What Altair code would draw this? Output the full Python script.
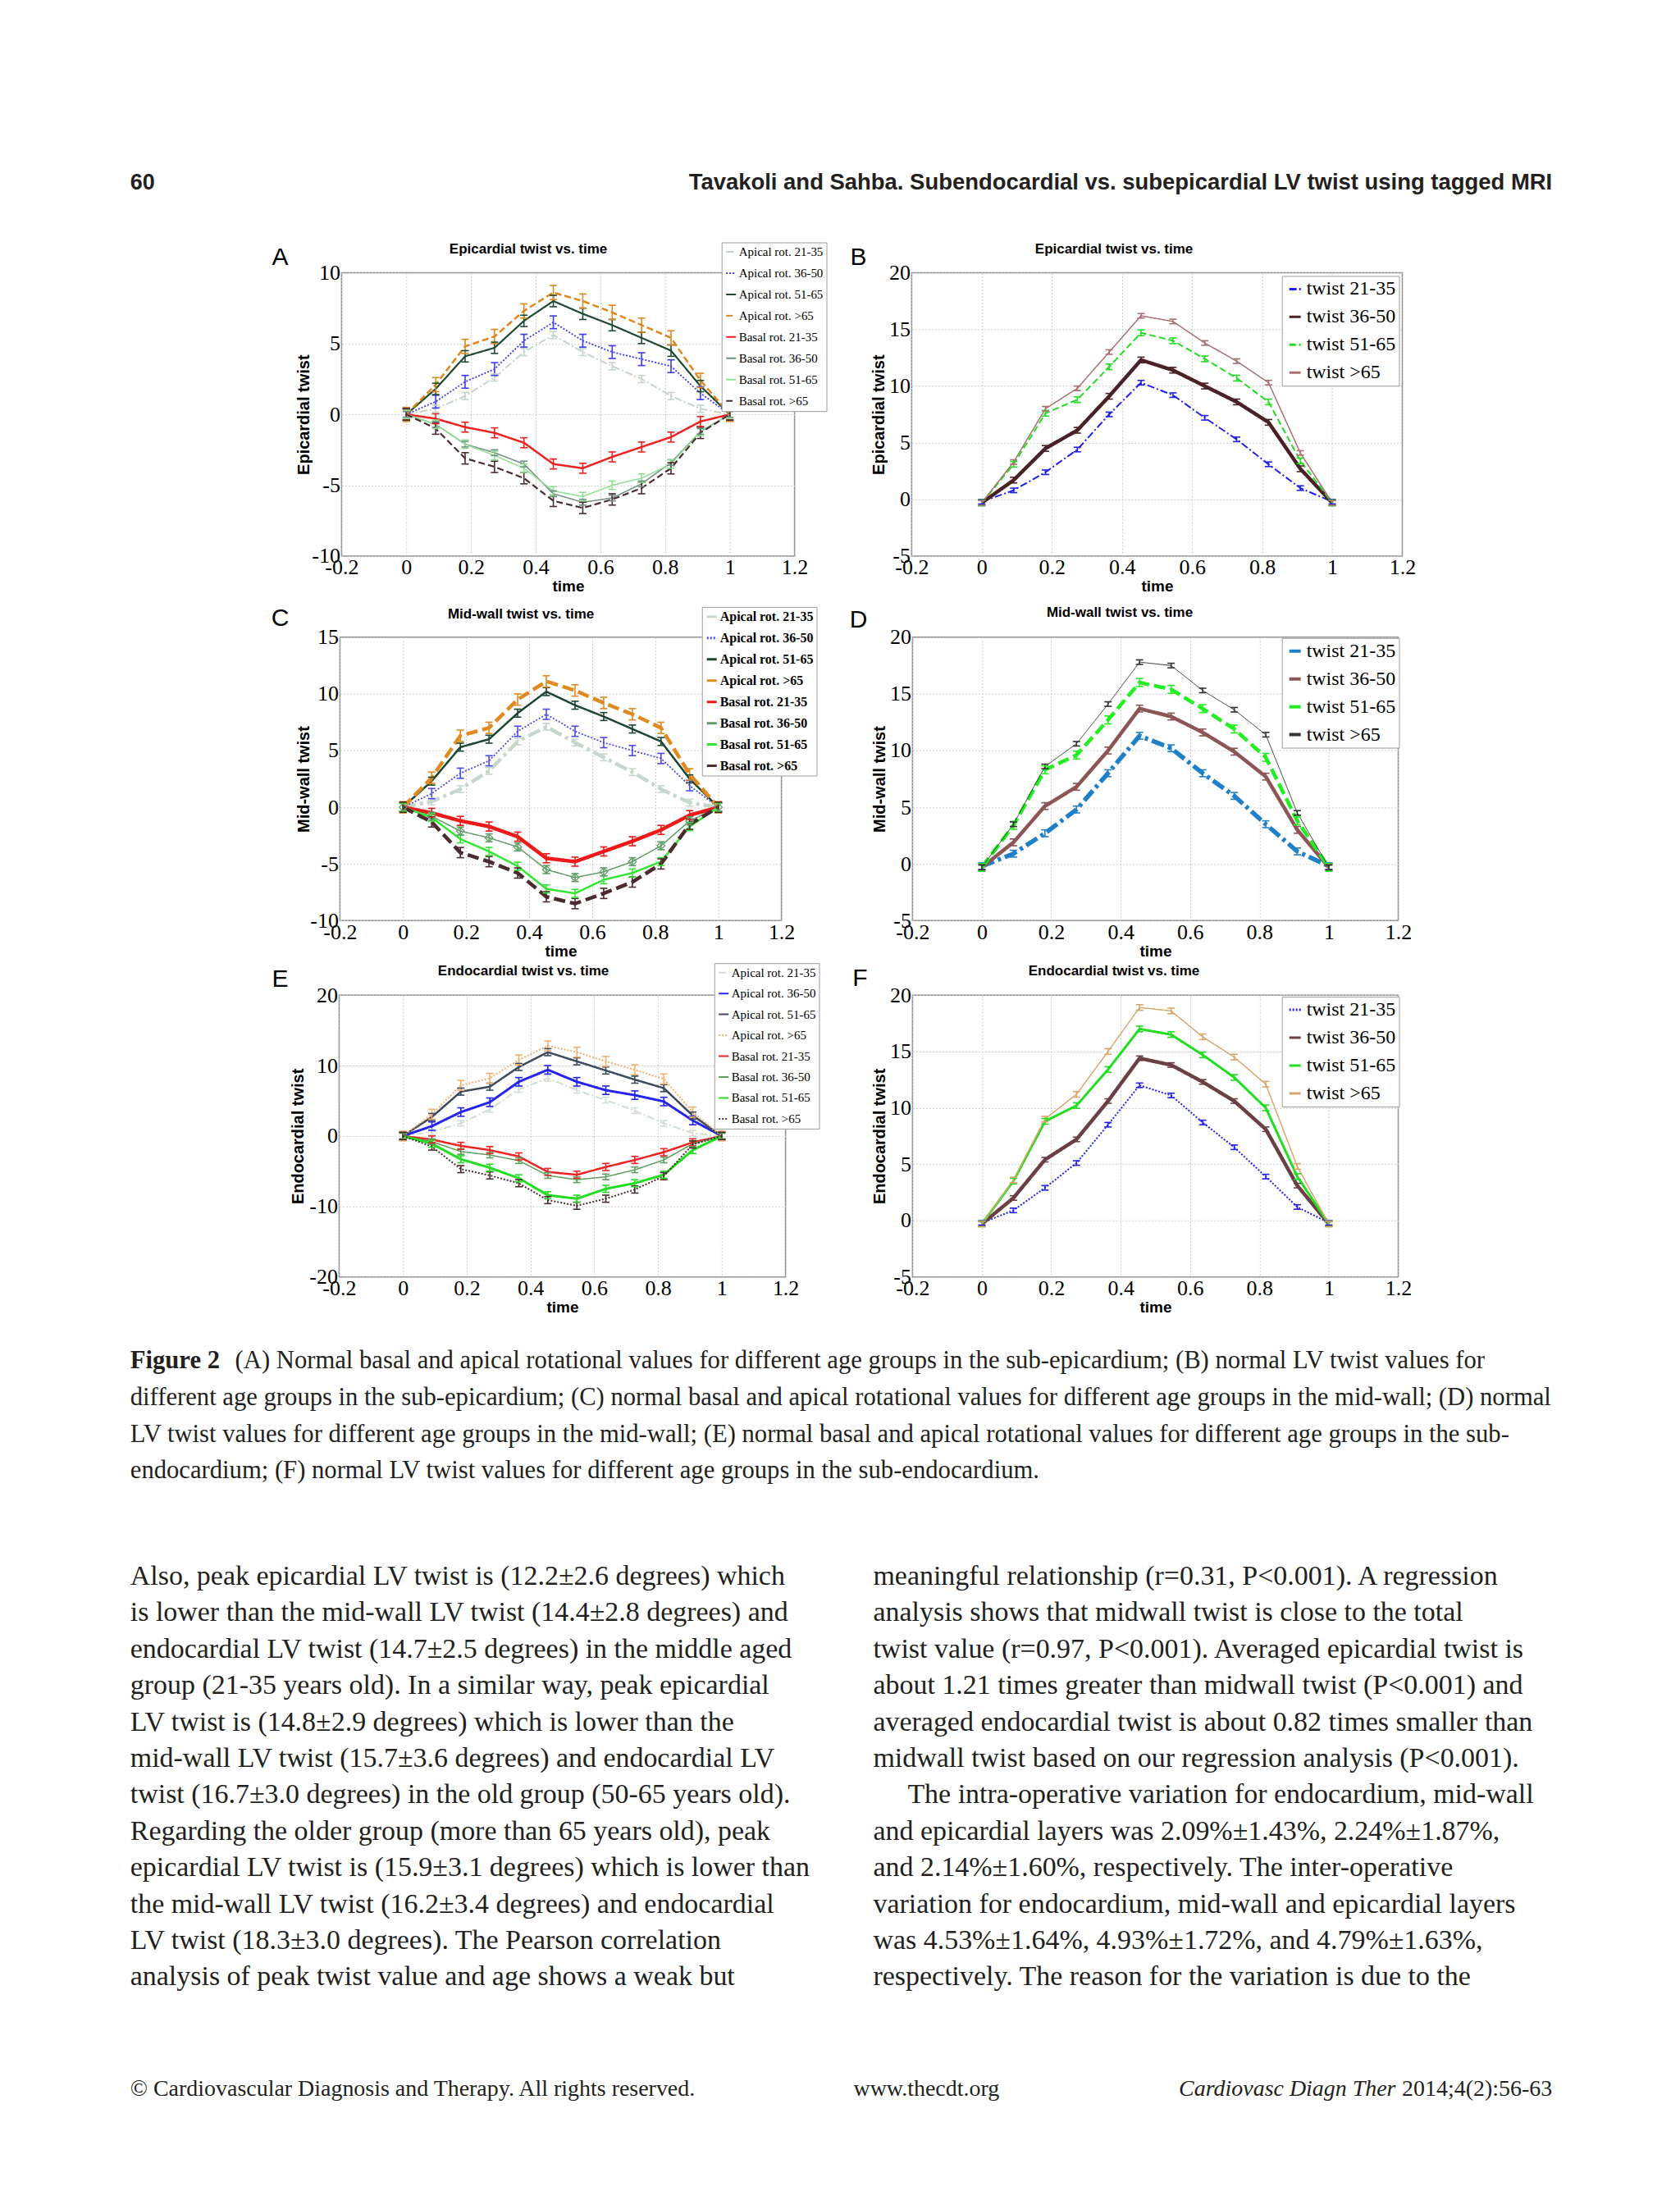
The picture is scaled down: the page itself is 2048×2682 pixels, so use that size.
import altair as alt
import pandas as pd

# ---------------- data ----------------
TIME = [0.0, 0.0909, 0.1818, 0.2727, 0.3636, 0.4545, 0.5455, 0.6364, 0.7273, 0.8182, 0.9091, 1.0]
X_TICKS = [-0.2, 0, 0.2, 0.4, 0.6, 0.8, 1.0, 1.2]

ROT_LABELS = ["Apical rot. 21-35", "Apical rot. 36-50", "Apical rot. 51-65", "Apical rot. >65",
              "Basal rot. 21-35", "Basal rot. 36-50", "Basal rot. 51-65", "Basal rot. >65"]
TWIST_LABELS = ["twist 21-35", "twist 36-50", "twist 51-65", "twist >65"]

# Panel A - epicardial rotations
A_apical_21_35 = [0, 0.4, 1.3, 2.6, 4.4, 5.6, 4.4, 3.4, 2.5, 1.3, 0.4, 0]
A_apical_36_50 = [0, 0.9, 2.3, 3.2, 5.2, 6.5, 5.2, 4.4, 3.9, 3.4, 1.5, 0]
A_apical_51_65 = [0, 1.8, 4.1, 4.7, 6.6, 8.0, 7.1, 6.3, 5.4, 4.5, 2.0, 0]
A_apical_65 = [0, 2.1, 4.8, 5.5, 7.3, 8.6, 8.0, 7.2, 6.3, 5.4, 2.4, 0]
A_basal_21_35 = [0, -0.3, -0.9, -1.3, -2.0, -3.5, -3.8, -3.0, -2.3, -1.6, -0.5, 0]
A_basal_36_50 = [0, -0.7, -2.1, -2.7, -3.5, -5.6, -6.2, -5.9, -4.9, -3.4, -1.2, 0]
A_basal_51_65 = [0, -0.7, -2.1, -2.9, -3.8, -5.4, -5.8, -5.0, -4.5, -3.5, -1.2, 0]
A_basal_65 = [0, -1.0, -3.1, -3.7, -4.5, -6.1, -6.6, -6.0, -5.2, -3.8, -1.3, 0]
A_err = [0.25, 0.45, 0.4, 0.5, 0.35, 0.2, 0.3, 0.4]

# Panel B - epicardial twist
B_21_35 = [-0.2, 0.8, 2.4, 4.4, 7.5, 10.3, 9.2, 7.2, 5.3, 3.1, 1.0, -0.2]
B_36_50 = [-0.3, 1.7, 4.5, 6.1, 9.1, 12.3, 11.4, 10.0, 8.6, 6.8, 2.7, -0.3]
B_51_65 = [-0.3, 3.1, 7.6, 8.8, 11.7, 14.7, 14.0, 12.4, 10.7, 8.6, 3.4, -0.3]
B_65 = [-0.3, 3.3, 8.0, 9.8, 13.0, 16.2, 15.7, 13.8, 12.2, 10.3, 4.1, -0.3]
B_err = [0.2, 0.25, 0.25, 0.2]

# Panel C - mid-wall rotations
C_apical_21_35 = [0, 0.5, 1.6, 3.2, 5.8, 7.1, 5.7, 4.4, 3.1, 1.6, 0.4, 0]
C_apical_36_50 = [0, 1.2, 3.0, 4.1, 6.7, 8.2, 6.7, 5.7, 5.0, 4.3, 1.9, 0]
C_apical_51_65 = [0, 2.3, 5.3, 6.0, 8.3, 10.2, 9.0, 8.0, 6.9, 5.8, 2.5, 0]
C_apical_65 = [0, 2.6, 6.3, 7.0, 9.5, 11.1, 10.3, 9.2, 8.2, 7.0, 2.9, 0]
C_basal_21_35 = [0, -0.5, -1.2, -1.7, -2.6, -4.5, -4.8, -3.9, -3.0, -2.0, -0.7, 0]
C_basal_36_50 = [0, -0.8, -2.1, -2.7, -3.5, -5.5, -6.2, -5.7, -4.8, -3.4, -1.2, 0]
C_basal_51_65 = [0, -0.9, -2.8, -3.9, -5.2, -7.2, -7.6, -6.4, -5.8, -4.8, -1.7, 0]
C_basal_65 = [0, -1.3, -4.0, -4.8, -5.8, -7.9, -8.5, -7.6, -6.6, -5.0, -1.5, 0]
C_err = [0.3, 0.45, 0.35, 0.5, 0.4, 0.35, 0.35, 0.45]

# Panel D - mid-wall twist
D_21_35 = [-0.2, 0.9, 2.7, 4.8, 8.0, 11.3, 10.2, 8.0, 6.0, 3.5, 1.1, -0.2]
D_36_50 = [-0.3, 1.9, 5.1, 6.8, 10.0, 13.7, 13.0, 11.6, 9.9, 7.7, 3.0, -0.3]
D_51_65 = [-0.3, 3.4, 8.3, 9.6, 12.7, 16.0, 15.4, 13.7, 11.9, 9.4, 3.8, -0.3]
D_65 = [-0.3, 3.5, 8.6, 10.6, 14.1, 17.8, 17.5, 15.3, 13.6, 11.4, 4.5, -0.3]
D_err = [0.3, 0.3, 0.35, 0.2]

# Panel E - endocardial rotations
E_apical_21_35 = [0, 0.6, 1.8, 3.8, 6.6, 8.2, 6.5, 5.1, 3.6, 1.8, 0.4, 0]
E_apical_36_50 = [0, 1.4, 3.4, 4.8, 7.7, 9.4, 7.7, 6.5, 5.8, 4.9, 2.2, 0]
E_apical_51_65 = [0, 2.7, 6.3, 7.0, 9.8, 11.9, 10.6, 9.3, 8.0, 6.8, 2.9, 0]
E_apical_65 = [0, 3.1, 7.2, 8.2, 10.8, 12.8, 11.9, 10.6, 9.4, 8.1, 3.4, 0]
E_basal_21_35 = [0, -0.5, -1.4, -2.0, -2.9, -5.1, -5.5, -4.4, -3.4, -2.3, -0.9, 0]
E_basal_36_50 = [0, -0.8, -2.2, -2.7, -3.5, -5.6, -6.2, -5.8, -4.8, -3.4, -1.1, 0]
E_basal_51_65 = [0, -1.1, -3.3, -4.5, -6.0, -8.4, -8.9, -7.5, -6.7, -5.5, -2.0, 0]
E_basal_65 = [0, -1.5, -4.7, -5.6, -6.7, -9.1, -9.9, -8.9, -7.6, -5.7, -1.2, 0]
E_err = [0.4, 0.6, 0.5, 0.7, 0.5, 0.4, 0.5, 0.5]

# Panel F - endocardial twist
F_21_35 = [-0.2, 0.9, 2.9, 5.1, 8.5, 12.0, 11.1, 8.7, 6.5, 3.9, 1.2, -0.2]
F_36_50 = [-0.3, 2.0, 5.4, 7.2, 10.6, 14.4, 13.8, 12.3, 10.6, 8.1, 3.1, -0.3]
F_51_65 = [-0.3, 3.5, 8.8, 10.2, 13.4, 17.0, 16.5, 14.7, 12.7, 10.0, 3.9, -0.3]
F_65 = [-0.3, 3.6, 9.0, 11.2, 15.0, 18.9, 18.6, 16.3, 14.5, 12.1, 4.8, -0.3]
F_err = [0.2, 0.2, 0.25, 0.25]

# ---------------- page text ----------------
PAGE_NO = "60"
RUNNING_HEAD = "Tavakoli and Sahba. Subendocardial vs. subepicardial LV twist using tagged MRI"
CAPTION_BOLD = "Figure 2"
CAPTION_FIRST = "(A) Normal basal and apical rotational values for different age groups in the sub-epicardium; (B) normal LV twist values for"
CAPTION_REST = [
    "different age groups in the sub-epicardium; (C) normal basal and apical rotational values for different age groups in the mid-wall; (D) normal",
    "LV twist values for different age groups in the mid-wall; (E) normal basal and apical rotational values for different age groups in the sub-",
    "endocardium; (F) normal LV twist values for different age groups in the sub-endocardium.",
]
BODY_LEFT = [
    "Also, peak epicardial LV twist is (12.2±2.6 degrees) which",
    "is lower than the mid-wall LV twist (14.4±2.8 degrees) and",
    "endocardial LV twist (14.7±2.5 degrees) in the middle aged",
    "group (21-35 years old). In a similar way, peak epicardial",
    "LV twist is (14.8±2.9 degrees) which is lower than the",
    "mid-wall LV twist (15.7±3.6 degrees) and endocardial LV",
    "twist (16.7±3.0 degrees) in the old group (50-65 years old).",
    "Regarding the older group (more than 65 years old), peak",
    "epicardial LV twist is (15.9±3.1 degrees) which is lower than",
    "the mid-wall LV twist (16.2±3.4 degrees) and endocardial",
    "LV twist (18.3±3.0 degrees). The Pearson correlation",
    "analysis of peak twist value and age shows a weak but",
]
BODY_RIGHT_1 = [
    "meaningful relationship (r=0.31, P<0.001). A regression",
    "analysis shows that midwall twist is close to the total",
    "twist value (r=0.97, P<0.001). Averaged epicardial twist is",
    "about 1.21 times greater than midwall twist (P<0.001) and",
    "averaged endocardial twist is about 0.82 times smaller than",
    "midwall twist based on our regression analysis (P<0.001).",
]
BODY_RIGHT_2 = ["The intra-operative variation for endocardium, mid-wall"]
BODY_RIGHT_3 = [
    "and epicardial layers was 2.09%±1.43%, 2.24%±1.87%,",
    "and 2.14%±1.60%, respectively. The inter-operative",
    "variation for endocardium, mid-wall and epicardial layers",
    "was 4.53%±1.64%, 4.93%±1.72%, and 4.79%±1.63%,",
    "respectively. The reason for the variation is due to the",
]
FOOT_LEFT = "© Cardiovascular Diagnosis and Therapy. All rights reserved."
FOOT_MID = "www.thecdt.org"
FOOT_ITALIC = "Cardiovasc Diagn Ther"
FOOT_RIGHT = "2014;4(2):56-63"

# ---------------- styling ----------------
SERIF = "Liberation Serif"
SANS = "Liberation Sans"
NARROW = "Liberation Sans Narrow, Arial Narrow, Liberation Sans"
INK = "#231f20"
GRID = "#cbcbcb"
SOLID, DASHED, DOTTED, DASHDOT = [1, 0], [8, 4], [2, 2], [9, 3, 2, 3]
DASHED_T, DASHDOT_T = [14, 6], [16, 5, 4, 5]
TICK_FS = 26
AXTITLE_FS = 19

XLAB = "datum.value == 0 ? '0' : (datum.value < 0 ? '-' : '') + format(abs(datum.value), '.1~f')"
YLAB = "(datum.value < 0 ? '-' : '') + format(abs(datum.value), 'd')"


def panel(labels, series, errs, colors, dashes, widths, ydom, yticks, w, h,
          title, title_xy, ytitle, ytitle_x, leg, letter, letter_xy, diamond=None):
    rows = []
    for lab, vals, e, wd in zip(labels, series, errs, widths):
        for t, v in zip(TIME, vals):
            rows.append({"t": t, "v": v, "lo": v - e, "hi": v + e, "s": lab, "w": wd})
    df = pd.DataFrame(rows)
    xs = alt.Scale(domain=[-0.2, 1.2], nice=False, zero=False)
    ys = alt.Scale(domain=ydom, nice=False, zero=False)
    cscale = alt.Scale(domain=labels, range=colors)
    dscale = alt.Scale(domain=labels, range=dashes)
    legend = alt.Legend(orient="none", legendX=leg["x"], legendY=leg["y"], title=None,
                        labelFont=SERIF, labelFontSize=leg["fs"], labelFontWeight=leg.get("weight", "normal"),
                        labelColor="black", symbolType="stroke", symbolSize=leg["sym"] ** 2,
                        symbolStrokeWidth=leg["sw"], strokeColor="#9c9c9c", fillColor="white",
                        padding=leg["pad"], rowPadding=leg["rp"], labelOffset=2, labelLimit=400)
    xaxis = alt.Axis(values=X_TICKS, title="time", labelExpr=XLAB, labelFont=SERIF, labelFontSize=TICK_FS,
                     labelColor="black", labelPadding=1, labelFlush=False, labelOverlap=False,
                     ticks=False, domain=False, grid=True, gridColor=GRID, gridDash=[2, 2], gridWidth=1,
                     titleFont=SANS, titleFontSize=AXTITLE_FS, titleFontWeight="bold", titleColor="black",
                     titleY=37, titleBaseline="middle")
    yaxis = alt.Axis(values=yticks, title=ytitle, labelExpr=YLAB, labelFont=SERIF, labelFontSize=TICK_FS,
                     labelColor="black", labelPadding=2, labelOverlap=False, labelFlush=False,
                     ticks=False, domain=False, grid=True, gridColor=GRID, gridDash=[2, 2], gridWidth=1,
                     titleFont=SANS, titleFontSize=AXTITLE_FS + 1, titleFontWeight="bold", titleColor="black",
                     titleX=ytitle_x, titleY=h / 2, titleAngle=270, titleAlign="center",
                     titleBaseline="middle")
    X = alt.X("t:Q", scale=xs, axis=xaxis, title="time")
    base = alt.Chart(df)
    lines = base.mark_line(strokeJoin="round").encode(
        x=X,
        y=alt.Y("v:Q", scale=ys, axis=yaxis, title=ytitle),
        color=alt.Color("s:N", scale=cscale, sort=labels, legend=legend),
        strokeDash=alt.StrokeDash("s:N", scale=dscale, sort=labels, legend=legend),
        strokeWidth=alt.StrokeWidth("w:Q", scale=None),
    )
    cnl = alt.Color("s:N", scale=cscale, sort=labels, legend=None)
    bars = base.mark_rule(strokeWidth=1.6).encode(
        x=X, y=alt.Y("lo:Q", scale=ys, axis=yaxis, title=ytitle), y2="hi:Q", color=cnl)
    cap_hi = base.mark_point(shape="stroke", size=81, strokeWidth=1.6, opacity=1, filled=False).encode(
        x=X, y=alt.Y("hi:Q", scale=ys, axis=yaxis, title=ytitle), color=cnl)
    cap_lo = base.mark_point(shape="stroke", size=81, strokeWidth=1.6, opacity=1, filled=False).encode(
        x=X, y=alt.Y("lo:Q", scale=ys, axis=yaxis, title=ytitle), color=cnl)
    layers = [lines, bars, cap_hi, cap_lo]
    if diamond is not None:
        layers.append(base.transform_filter(alt.datum.s == diamond).mark_point(
            shape="diamond", size=90, strokeWidth=1.3, filled=False, opacity=1).encode(
            x=X, y=alt.Y("v:Q", scale=ys, axis=yaxis, title=ytitle), color=cnl))
    ttl = alt.Chart(pd.DataFrame({"txt": [title]})).mark_text(
        font=NARROW, fontSize=17, fontWeight="bold", color="black", align="center", baseline="middle"
    ).encode(text="txt:N", x=alt.value(title_xy[0]), y=alt.value(title_xy[1]))
    let = alt.Chart(pd.DataFrame({"txt": [letter]})).mark_text(
        font=SANS, fontSize=30, color="black", align="center", baseline="middle"
    ).encode(text="txt:N", x=alt.value(letter_xy[0]), y=alt.value(letter_xy[1]))
    layers += [ttl, let]
    return alt.layer(*layers).properties(
        width=w, height=h, view=alt.ViewBackground(stroke="#8a8a8a", strokeWidth=1.5, fill="white"))


def spacer(w, h):
    return alt.Chart(pd.DataFrame({"a": [0]})).mark_point(opacity=0).properties(
        width=w, height=h, view=alt.ViewBackground(stroke=None))


def text_lines(lines, x, y0, dy, size, font=SERIF, weight="normal", style="normal", align="left"):
    df = pd.DataFrame({"i": list(range(len(lines))), "txt": lines})
    n = max(len(lines) - 1, 1)
    return alt.Chart(df).mark_text(align=align, baseline="middle", font=font, fontSize=size,
                                   fontWeight=weight, fontStyle=style, color=INK).encode(
        x=alt.value(x),
        y=alt.Y("i:Q", scale=alt.Scale(domain=[0, n], range=[y0, y0 + dy * n]), axis=None),
        text="txt:N")


# ---------------- panels ----------------
pA = panel(ROT_LABELS,
           [A_apical_21_35, A_apical_36_50, A_apical_51_65, A_apical_65,
            A_basal_21_35, A_basal_36_50, A_basal_51_65, A_basal_65], A_err,
           ["#c3d5c7", "#3a3af0", "#1d4a30", "#e0861f", "#ef2020", "#6d8f86", "#8fe08f", "#4b2b2e"],
           [DASHDOT, DOTTED, SOLID, DASHED, SOLID, SOLID, SOLID, DASHED],
           [2, 1.8, 2.2, 2.5, 2.5, 1.5, 1.5, 2.2],
           [-10, 10], [-10, -5, 0, 5, 10], 553, 346,
           "Epicardial twist vs. time", (228, -28), "Epicardial twist", -46,
           dict(x=464, y=-37, fs=15, sym=12, sw=2, pad=4, rp=10), "A", (-75, -18))

pB = panel(TWIST_LABELS, [B_21_35, B_36_50, B_51_65, B_65], B_err,
           ["#2020e8", "#4a2226", "#22dd22", "#a87272"],
           [DASHDOT, SOLID, DASHED, SOLID], [2, 4.5, 2, 1.5],
           [-5, 20], [-5, 0, 5, 10, 15, 20], 599, 346,
           "Epicardial twist vs. time", (247, -28), "Epicardial twist", -40,
           dict(x=452, y=4, fs=24, sym=14, sw=3, pad=4, rp=10), "B", (-65, -18))

pC = panel(ROT_LABELS,
           [C_apical_21_35, C_apical_36_50, C_apical_51_65, C_apical_65,
            C_basal_21_35, C_basal_36_50, C_basal_51_65, C_basal_65], C_err,
           ["#c6d8cb", "#4a4ae8", "#1b4630", "#e08a20", "#ee1a1a", "#5f9c67", "#33e633", "#4b2b2e"],
           [DASHDOT_T, DOTTED, SOLID, DASHED_T, SOLID, SOLID, SOLID, DASHED_T],
           [4.5, 1.8, 2.5, 4.5, 4.5, 1.5, 2.5, 4.5],
           [-10, 15], [-10, -5, 0, 5, 10, 15], 539, 346,
           "Mid-wall twist vs. time", (221, -28), "Mid-wall twist", -44,
           dict(x=442, y=-37, fs=16, weight="bold", sym=12, sw=3, pad=4, rp=10), "C", (-73, -23),
           diamond="Basal rot. 36-50")

pD = panel(TWIST_LABELS, [D_21_35, D_36_50, D_51_65, D_65], D_err,
           ["#1f80c8", "#8c5656", "#22ee22", "#333333"],
           [DASHDOT_T, SOLID, DASHED_T, SOLID], [5.5, 4.5, 4.5, 1],
           [-5, 20], [-5, 0, 5, 10, 15, 20], 593, 346,
           "Mid-wall twist vs. time", (253, -30), "Mid-wall twist", -40,
           dict(x=451, y=1, fs=24, sym=14, sw=4, pad=4, rp=10), "D", (-66, -21))

pE = panel(ROT_LABELS,
           [E_apical_21_35, E_apical_36_50, E_apical_51_65, E_apical_65,
            E_basal_21_35, E_basal_36_50, E_basal_51_65, E_basal_65], E_err,
           ["#cfe0d3", "#2424ee", "#3b4a5c", "#f5b06c", "#ee2222", "#5c9c5c", "#22dd22", "#4b2b2e"],
           [DASHDOT, SOLID, SOLID, DOTTED, SOLID, SOLID, SOLID, DOTTED],
           [2, 3, 2.5, 2, 2.5, 1.5, 3, 2],
           [-20, 20], [-20, -10, 0, 10, 20], 545, 344,
           "Endocardial twist vs. time", (225, -29), "Endocardial twist", -50,
           dict(x=458, y=-39, fs=15, sym=12, sw=2, pad=4, rp=9.5), "E", (-72, -19))

pF = panel(TWIST_LABELS, [F_21_35, F_36_50, F_51_65, F_65], F_err,
           ["#2222ee", "#6b4042", "#22dd22", "#d8a870"],
           [DOTTED, SOLID, SOLID, SOLID], [2, 4.5, 3, 1.5],
           [-5, 20], [-5, 0, 5, 10, 15, 20], 593, 344,
           "Endocardial twist vs. time", (246, -29), "Endocardial twist", -40,
           dict(x=451, y=2, fs=24, sym=14, sw=3, pad=4, rp=10), "F", (-64, -20))

RES = dict(color="independent", strokeDash="independent")
row1 = alt.hconcat(spacer(263, 1), pA, pB, spacing=143, bounds="flush").resolve_scale(**RES)
row2 = alt.hconcat(spacer(244, 1), pC, pD, spacing=160, bounds="flush").resolve_scale(**RES)
row3 = alt.hconcat(spacer(248, 1), pE, pF, spacing=155, bounds="flush").resolve_scale(**RES)

# ---------------- page text blocks ----------------
header = alt.layer(
    text_lines([PAGE_NO], 148, 213, 10, 27, font=NARROW, weight="bold"),
    text_lines([RUNNING_HEAD], 1884, 213, 10, 27.5, font=NARROW, weight="bold", align="right"),
).resolve_scale(y="independent").properties(width=2032, height=323, view=alt.ViewBackground(stroke=None))

BODY_FS = 34
CAP_FS = 30.7
bottom = alt.layer(
    text_lines([CAPTION_BOLD], 148, 103, 45, CAP_FS, weight="bold"),
    text_lines([CAPTION_FIRST], 276, 103, 45, CAP_FS),
    text_lines(CAPTION_REST, 148, 148, 44.5, CAP_FS),
    text_lines(BODY_LEFT, 148, 366, 44.45, BODY_FS),
    text_lines(BODY_RIGHT_1, 1055, 366, 44.45, BODY_FS),
    text_lines(BODY_RIGHT_2, 1097, 366 + 6 * 44.45, 44.45, BODY_FS),
    text_lines(BODY_RIGHT_3, 1055, 366 + 7 * 44.45, 44.45, BODY_FS),
    text_lines([FOOT_LEFT], 148, 992, 10, 28),
    text_lines([FOOT_MID], 1031, 992, 10, 28),
    text_lines([FOOT_ITALIC], 1693, 992, 10, 28, style="italic", align="right"),
    text_lines([FOOT_RIGHT], 1884, 992, 10, 28, align="right"),
).resolve_scale(y="independent").properties(width=2032, height=1060, view=alt.ViewBackground(stroke=None))

# nested hconcat rows take no height in a flush vconcat, so the spacers carry row height + gap
chart = alt.vconcat(header, row1, spacer(1, 346 + 99), row2, spacer(1, 346 + 91), row3, spacer(1, 344), bottom,
                    spacing=0, bounds="flush").resolve_scale(**RES).properties(
    padding=0, background="white").configure_view(stroke=None)

chart.save("out.html", embed_options={"renderer": "svg", "actions": False})
